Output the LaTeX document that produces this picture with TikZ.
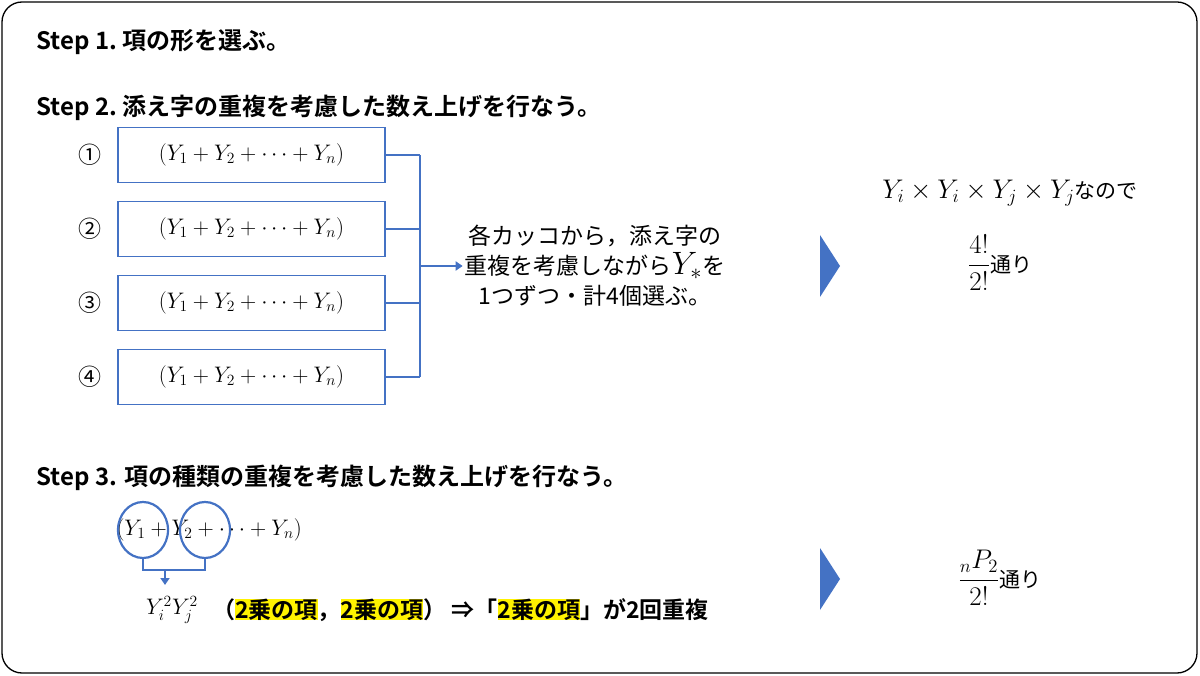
\documentclass[tikz,border=0pt]{standalone}
\usepackage{amsmath}
\usepackage{graphicx}
\usepackage{fontspec}
\newfontfamily\jp{Noto Sans CJK JP}
\newfontfamily\jpb{Noto Sans CJK JP Bold}
\usetikzlibrary{arrows.meta,shapes.geometric}
\definecolor{blu}{RGB}{68,114,196}
\newcommand\BMa[1]{\scalebox{1.3}{$#1$}}
\begin{document}
\begin{tikzpicture}[x=1pt,y=-1pt,
  hd/.style={anchor=west,font=\jpb\fontsize{24}{28}\selectfont},
  tx/.style={font=\jp\fontsize{23}{30}\selectfont},
  bx/.style={draw=blu,line width=1.8pt,minimum width=267pt,minimum height=55pt,font=\fontsize{17}{20}\selectfont},
  ln/.style={draw=blu,line width=2.2pt},
  tri/.style={fill=blu,draw=none}]
\useasboundingbox (0,0) rectangle (1200,676);
\draw[line width=1.3pt,rounded corners=20pt] (2,2) rectangle (1197,673);
\node[hd] (s1) at (33,42) {Step 1.\ 項の形を選ぶ。};
\node[hd] (s2) at (33,108) {Step 2.\ 添え字の重複を考慮した数え上げを行なう。};
\node[hd] (s3) at (33,478) {Step 3. 項の種類の重複を考慮した数え上げを行なう。};
\foreach \i/\y/\c in {1/155/①,2/229/②,3/303/③,4/377/④}{
  \node[bx] (b\i) at (251.5,\y) {\BMa{(Y_1+Y_2+\cdots+Y_n)}};
  \node[tx] (n\i) at (90,\y) {\c};
  \coordinate (r\i) at (420,\y);
  \draw[ln] (b\i.east) -- (r\i);
}
\draw[ln] (r1) -- (r4);
\coordinate (m) at (420,266);
\node[tx,align=center,inner sep=2pt] (t) at (595,266) {各カッコから，添え字の\\重複を考慮しながら\BMa{Y_{*}}を\\1つずつ・計4個選ぶ。};
\draw[ln,-{Triangle[length=7pt,width=9pt]}] (m) -- (t.west);
\fill[tri] (820,235) -- (840,266) -- (820,297) -- cycle;
\node[tx,font=\jp\fontsize{21}{26}\selectfont] (c1) at (1010,193) {\BMa{Y_i\times Y_i\times Y_j\times Y_j}なので};
\node[tx,font=\jp\fontsize{21}{26}\selectfont] (c2) at (1000,263) {\BMa{\dfrac{4!}{2!}}通り};
% step 3
\node[anchor=west,font=\fontsize{17}{20}\selectfont] (f) at (113,530) {\BMa{(Y_1+Y_2+\cdots+Y_n)}};
\node[draw=blu,line width=2.2pt,ellipse,minimum width=50pt,minimum height=56pt,inner sep=0pt] (e1) at (143,530) {};
\node[draw=blu,line width=2.2pt,ellipse,minimum width=50pt,minimum height=56pt,inner sep=0pt] (e2) at (205,530) {};
\coordinate (j1) at (143,570);
\coordinate (j2) at (205,570);
\coordinate (jm) at (165,570);
\draw[ln] (e1.south) -- (j1) -- (j2) -- (e2.south);
\node[font=\fontsize{17}{20}\selectfont] (y) at (172,610) {\BMa{Y_i^2Y_j^2}};
\draw[ln,-{Triangle[length=7pt,width=9pt]}] (jm) -- (165,585);
\node[anchor=west,font=\jpb\fontsize{23}{28}\selectfont,inner sep=0pt] (h) at (212,610) {\setlength{\fboxsep}{0pt}（\colorbox{yellow}{2乗の項}，\colorbox{yellow}{2乗の項}）\ ⇒「\colorbox{yellow}{2乗の項}」が2回重複};
\fill[tri] (820,548) -- (840,579) -- (820,610) -- cycle;
\node[tx,font=\jp\fontsize{21}{26}\selectfont] (c3) at (1000,578) {\BMa{\dfrac{{}_nP_2}{2!}}通り};
\end{tikzpicture}
\end{document}
